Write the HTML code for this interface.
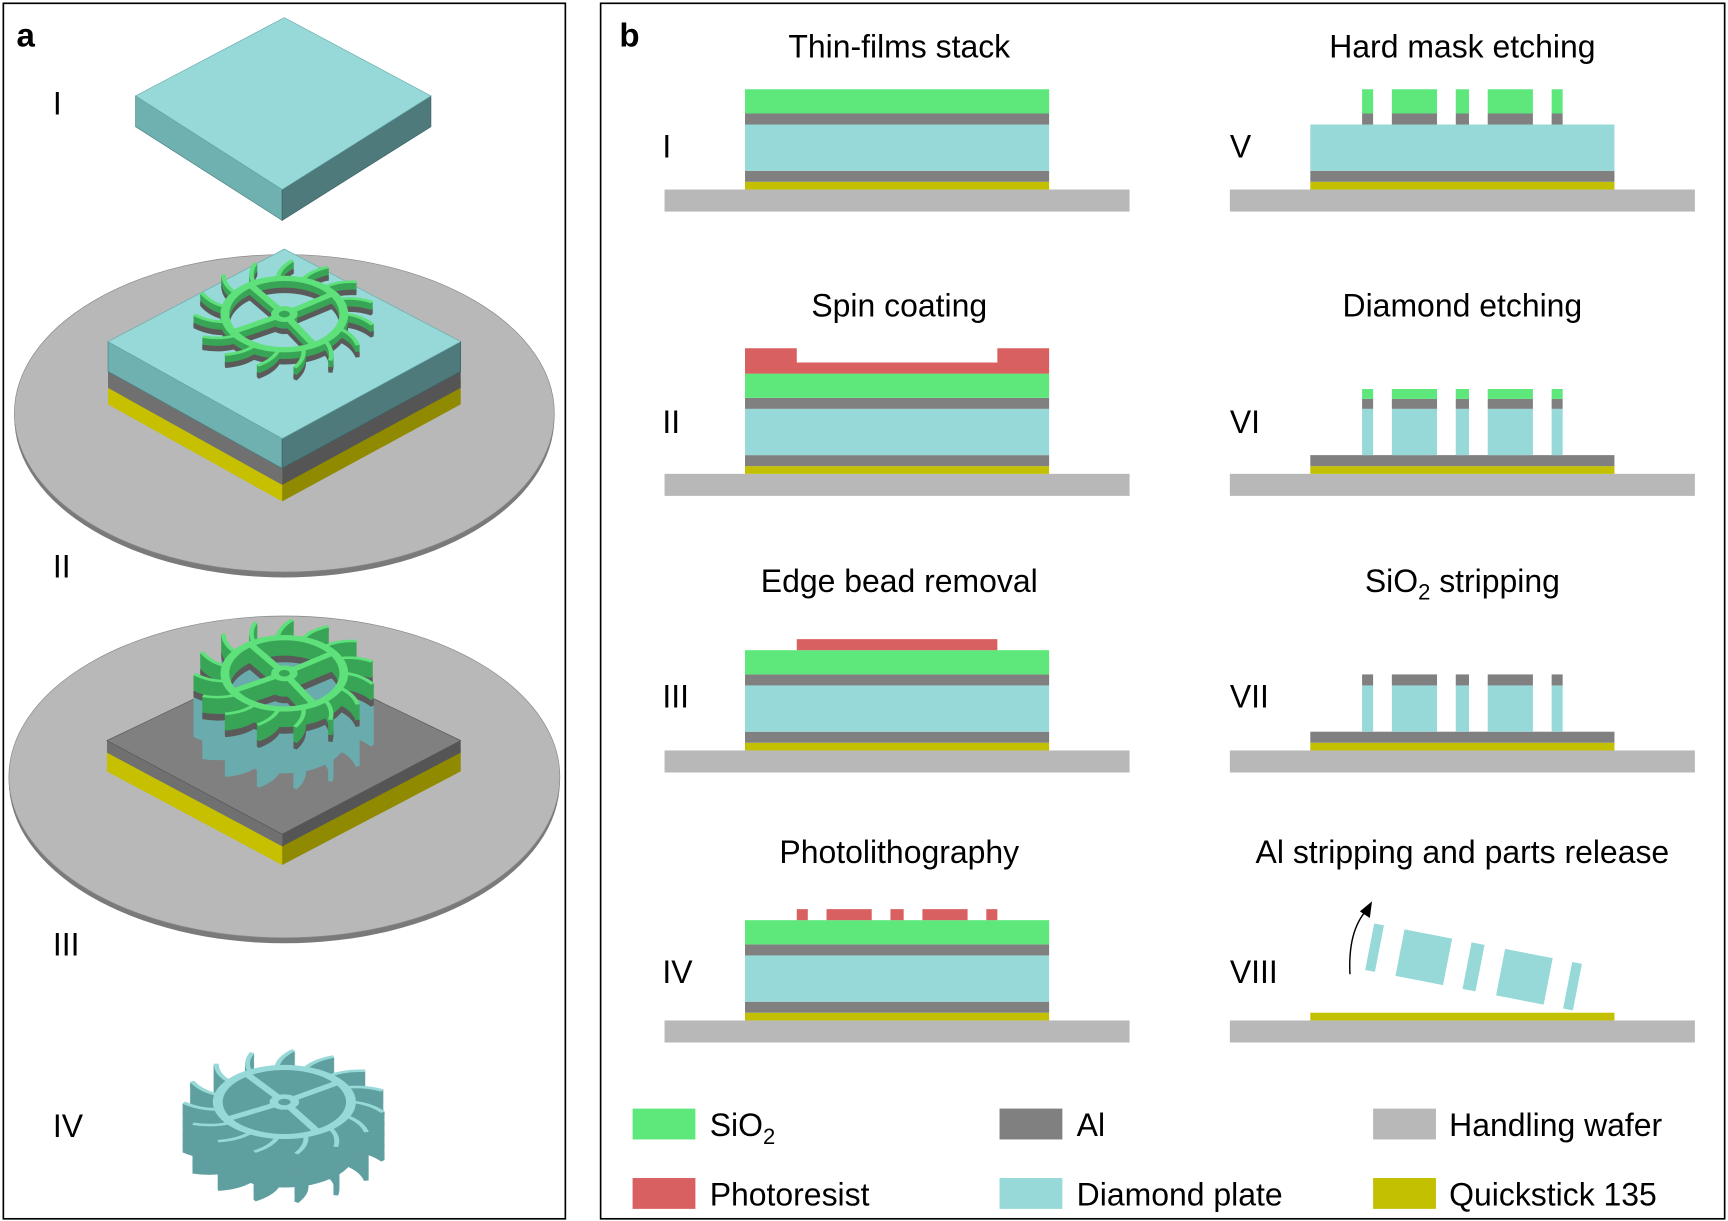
<!DOCTYPE html>
<html><head><meta charset="utf-8"><style>
html,body{margin:0;padding:0;background:#fff;}
svg{display:block;}
text{font-family:"Liberation Sans",Arial,sans-serif;fill:#000;}
</style></head><body>
<svg width="1728" height="1221" viewBox="0 0 1568 1108" xmlns="http://www.w3.org/2000/svg">
<defs>
<path id="tooth" d="M56,0 Q70,3 80,16" fill="none" stroke-width="4"/>
<g id="gear">
  <path d="M58,0 A58,58 0 1 0 -58,0 A58,58 0 1 0 58,0 Z M50,0 A50,50 0 1 1 -50,0 A50,50 0 1 1 50,0 Z" fill-rule="evenodd" stroke="none"/>
  <path d="M12,0 A12,12 0 1 0 -12,0 A12,12 0 1 0 12,0 Z M5,0 A5,5 0 1 1 -5,0 A5,5 0 1 1 5,0 Z" fill-rule="evenodd" stroke="none"/>
  <g stroke="none">
    <rect x="10" y="-3.5" width="42" height="7" transform="rotate(-35)"/>
    <rect x="10" y="-3.5" width="42" height="7" transform="rotate(60)"/>
    <rect x="10" y="-3.5" width="42" height="7" transform="rotate(150)"/>
    <rect x="10" y="-3.5" width="42" height="7" transform="rotate(235)"/>
  </g>
  <use href="#tooth" transform="rotate(0)"/><use href="#tooth" transform="rotate(24)"/>
  <use href="#tooth" transform="rotate(48)"/><use href="#tooth" transform="rotate(72)"/>
  <use href="#tooth" transform="rotate(96)"/><use href="#tooth" transform="rotate(120)"/>
  <use href="#tooth" transform="rotate(144)"/><use href="#tooth" transform="rotate(168)"/>
  <use href="#tooth" transform="rotate(192)"/><use href="#tooth" transform="rotate(216)"/>
  <use href="#tooth" transform="rotate(240)"/><use href="#tooth" transform="rotate(264)"/>
  <use href="#tooth" transform="rotate(288)"/><use href="#tooth" transform="rotate(312)"/>
  <use href="#tooth" transform="rotate(336)"/>
</g>
<g id="g2"><g transform="scale(1,0.6)"><use href="#gear"/></g></g>
<g id="g4"><g transform="scale(1.12,0.58)"><use href="#gear"/></g></g>
<g id="s2"><use href="#g2"/><use href="#g2" y="1"/><use href="#g2" y="2"/></g>
<g id="s4"><use href="#g4"/><use href="#g4" y="1"/><use href="#g4" y="2"/></g>
</defs>

<rect x="3" y="3" width="510" height="1103" fill="none" stroke="#000" stroke-width="1.5"/>
<rect x="545" y="3" width="1020" height="1103" fill="none" stroke="#000" stroke-width="1.5"/>
<text x="15" y="42" font-size="30" font-weight="bold">a</text>
<text x="562" y="42" font-size="30" font-weight="bold">b</text>

<!-- a I -->
<text x="48" y="104" font-size="29">I</text>
<polygon points="123,87 256,172 256,200 123,115" fill="#6fb0b0" stroke="#4a8080" stroke-width="0.6"/>
<polygon points="256,172 391,87 391,115 256,200" fill="#4e7a7c" stroke="#3c6062" stroke-width="0.6"/>
<polygon points="258,16 391,87 256,172 123,87" fill="#96d9d8" stroke="#6aa" stroke-width="0.6"/>

<!-- a II -->
<ellipse cx="258" cy="379" rx="245" ry="145" fill="#7a7a7a"/>
<ellipse cx="258" cy="375" rx="245" ry="144" fill="#b8b8b8" stroke="#888" stroke-width="0.6"/>
<polygon points="98,344 256,432 256,455 98,367" fill="#c6c000"/>
<polygon points="256,432 418,344 418,367 256,455" fill="#8f8a00"/>
<polygon points="98,336 256,424 256,440 98,352" fill="#707070"/>
<polygon points="256,424 418,336 418,352 256,440" fill="#555"/>
<polygon points="98,310 256,398 256,425 98,337" fill="#6fb0b0" stroke="#4a8080" stroke-width="0.6"/>
<polygon points="256,398 418,310 418,337 256,425" fill="#4e7a7c" stroke="#3c6062" stroke-width="0.6"/>
<polygon points="258,226 418,310 256,398 98,310" fill="#96d9d8" stroke="#6aa" stroke-width="0.6"/>
<g transform="translate(258,285)">
<g fill="#5a5a5a" stroke="#5a5a5a"><use href="#s2" y="9"/><use href="#s2" y="7"/></g>
<g fill="#38a556" stroke="#38a556"><use href="#s2" y="4"/><use href="#s2" y="1"/></g>
<g fill="#5ee07a" stroke="#5ee07a"><use href="#g2"/></g>
</g>
<text x="48" y="524" font-size="29">II</text>

<!-- a III -->
<ellipse cx="258" cy="709" rx="250" ry="147" fill="#7a7a7a"/>
<ellipse cx="258" cy="705" rx="250" ry="146" fill="#b8b8b8" stroke="#888" stroke-width="0.6"/>
<polygon points="97,680 256,765 256,785 97,700" fill="#c6c000"/>
<polygon points="256,765 418,680 418,700 256,785" fill="#8f8a00"/>
<polygon points="97,672 256,757 256,768 97,683" fill="#707070"/>
<polygon points="256,757 418,672 418,683 256,768" fill="#555"/>
<polygon points="258,595 418,672 256,757 97,672" fill="#808080" stroke="#555" stroke-width="0.6"/>
<g transform="translate(258,611)">
<g fill="#6aacad" stroke="#6aacad">
<use href="#s2" y="54"/><use href="#s2" y="51"/><use href="#s2" y="48"/><use href="#s2" y="45"/>
<use href="#s2" y="42"/><use href="#s2" y="39"/><use href="#s2" y="36"/><use href="#s2" y="33"/>
<use href="#s2" y="30"/><use href="#s2" y="27"/><use href="#s2" y="24"/><use href="#s2" y="21"/>
</g>
<g fill="#5a5a5a" stroke="#5a5a5a"><use href="#s2" y="18"/><use href="#s2" y="15"/></g>
<g fill="#38a556" stroke="#38a556"><use href="#s2" y="12"/><use href="#s2" y="9"/><use href="#s2" y="6"/><use href="#s2" y="3"/><use href="#s2" y="1"/></g>
<g fill="#5ee07a" stroke="#5ee07a"><use href="#g2"/></g>
</g>
<text x="48" y="867" font-size="29">III</text>

<!-- a IV -->
<g transform="translate(258,1000)">
<g fill="#5f9fa0" stroke="#5f9fa0">
<use href="#s4" y="42"/><use href="#s4" y="39"/><use href="#s4" y="36"/><use href="#s4" y="33"/>
<use href="#s4" y="30"/><use href="#s4" y="27"/><use href="#s4" y="24"/><use href="#s4" y="21"/>
<use href="#s4" y="18"/><use href="#s4" y="15"/><use href="#s4" y="12"/><use href="#s4" y="9"/>
<use href="#s4" y="6"/><use href="#s4" y="3"/><use href="#s4" y="1"/>
</g>
<g fill="#96d9d8" stroke="#96d9d8"><use href="#g4"/></g>
</g>
<text x="48" y="1032" font-size="29">IV</text>

<!-- Panel b titles -->
<g font-size="29" text-anchor="middle">
<text x="816" y="52">Thin-films stack</text>
<text x="1327" y="52">Hard mask etching</text>
<text x="816" y="287">Spin coating</text>
<text x="1327" y="287">Diamond etching</text>
<text x="816" y="537">Edge bead removal</text>
<text x="1327" y="537">SiO<tspan font-size="20" dy="7">2</tspan><tspan dy="-7"> stripping</tspan></text>
<text x="816" y="783">Photolithography</text>
<text x="1327" y="783">Al stripping and parts release</text>
</g>
<g font-size="29">
<text x="601" y="143">I</text>
<text x="601" y="393">II</text>
<text x="601" y="642">III</text>
<text x="601" y="892">IV</text>
<text x="1116" y="143">V</text>
<text x="1116" y="393">VI</text>
<text x="1116" y="642">VII</text>
<text x="1116" y="892">VIII</text>
</g>

<!-- I -->
<rect x="603" y="172" width="422" height="20" fill="#b8b8b8"/>
<rect x="676" y="165" width="276" height="7" fill="#c2c000"/>
<rect x="676" y="155" width="276" height="10" fill="#808080"/>
<rect x="676" y="113" width="276" height="42" fill="#96d9d8"/>
<rect x="676" y="103" width="276" height="10" fill="#808080"/>
<rect x="676" y="81" width="276" height="22" fill="#5ee87c"/>

<!-- II -->
<rect x="603" y="430" width="422" height="20" fill="#b8b8b8"/>
<rect x="676" y="423" width="276" height="7" fill="#c2c000"/>
<rect x="676" y="413" width="276" height="10" fill="#808080"/>
<rect x="676" y="371" width="276" height="42" fill="#96d9d8"/>
<rect x="676" y="361" width="276" height="10" fill="#808080"/>
<rect x="676" y="339" width="276" height="22" fill="#5ee87c"/>
<path d="M676,316 H723 V329 H905 V316 H952 V339 H676 Z" fill="#d96060"/>

<!-- III -->
<rect x="603" y="681" width="422" height="20" fill="#b8b8b8"/>
<rect x="676" y="674" width="276" height="7" fill="#c2c000"/>
<rect x="676" y="664" width="276" height="10" fill="#808080"/>
<rect x="676" y="622" width="276" height="42" fill="#96d9d8"/>
<rect x="676" y="612" width="276" height="10" fill="#808080"/>
<rect x="676" y="590" width="276" height="22" fill="#5ee87c"/>
<rect x="723" y="580" width="182" height="10" fill="#d96060"/>

<!-- IV -->
<rect x="603" y="926" width="422" height="20" fill="#b8b8b8"/>
<rect x="676" y="919" width="276" height="7" fill="#c2c000"/>
<rect x="676" y="909" width="276" height="10" fill="#808080"/>
<rect x="676" y="867" width="276" height="42" fill="#96d9d8"/>
<rect x="676" y="857" width="276" height="10" fill="#808080"/>
<rect x="676" y="835" width="276" height="22" fill="#5ee87c"/>
<g fill="#d96060">
<rect x="723" y="825" width="10" height="10"/><rect x="750" y="825" width="41" height="10"/>
<rect x="808" y="825" width="12" height="10"/><rect x="837" y="825" width="41" height="10"/>
<rect x="895" y="825" width="10" height="10"/>
</g>

<!-- V -->
<rect x="1116" y="172" width="422" height="20" fill="#b8b8b8"/>
<rect x="1189" y="165" width="276" height="7" fill="#c2c000"/>
<rect x="1189" y="155" width="276" height="10" fill="#808080"/>
<rect x="1189" y="113" width="276" height="42" fill="#96d9d8"/>
<g fill="#808080">
<rect x="1236" y="103" width="10" height="10"/><rect x="1263" y="103" width="41" height="10"/>
<rect x="1321" y="103" width="12" height="10"/><rect x="1350" y="103" width="41" height="10"/>
<rect x="1408" y="103" width="10" height="10"/>
</g>
<g fill="#5ee87c">
<rect x="1236" y="81" width="10" height="22"/><rect x="1263" y="81" width="41" height="22"/>
<rect x="1321" y="81" width="12" height="22"/><rect x="1350" y="81" width="41" height="22"/>
<rect x="1408" y="81" width="10" height="22"/>
</g>

<!-- VI -->
<rect x="1116" y="430" width="422" height="20" fill="#b8b8b8"/>
<rect x="1189" y="423" width="276" height="7" fill="#c2c000"/>
<rect x="1189" y="413" width="276" height="10" fill="#808080"/>
<g fill="#96d9d8">
<rect x="1236" y="371" width="10" height="42"/><rect x="1263" y="371" width="41" height="42"/>
<rect x="1321" y="371" width="12" height="42"/><rect x="1350" y="371" width="41" height="42"/>
<rect x="1408" y="371" width="10" height="42"/>
</g>
<g fill="#808080">
<rect x="1236" y="362" width="10" height="9"/><rect x="1263" y="362" width="41" height="9"/>
<rect x="1321" y="362" width="12" height="9"/><rect x="1350" y="362" width="41" height="9"/>
<rect x="1408" y="362" width="10" height="9"/>
</g>
<g fill="#5ee87c">
<rect x="1236" y="353" width="10" height="9"/><rect x="1263" y="353" width="41" height="9"/>
<rect x="1321" y="353" width="12" height="9"/><rect x="1350" y="353" width="41" height="9"/>
<rect x="1408" y="353" width="10" height="9"/>
</g>

<!-- VII -->
<rect x="1116" y="681" width="422" height="20" fill="#b8b8b8"/>
<rect x="1189" y="674" width="276" height="7" fill="#c2c000"/>
<rect x="1189" y="664" width="276" height="10" fill="#808080"/>
<g fill="#96d9d8">
<rect x="1236" y="622" width="10" height="42"/><rect x="1263" y="622" width="41" height="42"/>
<rect x="1321" y="622" width="12" height="42"/><rect x="1350" y="622" width="41" height="42"/>
<rect x="1408" y="622" width="10" height="42"/>
</g>
<g fill="#808080">
<rect x="1236" y="612" width="10" height="10"/><rect x="1263" y="612" width="41" height="10"/>
<rect x="1321" y="612" width="12" height="10"/><rect x="1350" y="612" width="41" height="10"/>
<rect x="1408" y="612" width="10" height="10"/>
</g>

<!-- VIII -->
<rect x="1116" y="926" width="422" height="20" fill="#b8b8b8"/>
<rect x="1189" y="919" width="276" height="7" fill="#c2c000"/>
<g transform="translate(1247,838) rotate(11)" fill="#96d9d8">
<rect x="0" y="0" width="9" height="43"/><rect x="28" y="0" width="44" height="43"/>
<rect x="90" y="0" width="12" height="43"/><rect x="121" y="0" width="44" height="43"/>
<rect x="183" y="0" width="9" height="43"/>
</g>
<path d="M1225,884 Q1223,845 1240,826" fill="none" stroke="#000" stroke-width="1.3"/>
<polygon points="1245,818 1243,833 1234,827" fill="#000"/>

<!-- Legend -->
<rect x="574" y="1006" width="57" height="28" fill="#5ee87c"/>
<text x="644" y="1031" font-size="29">SiO<tspan font-size="20" dy="7">2</tspan></text>
<rect x="907" y="1006" width="57" height="28" fill="#808080"/>
<text x="977" y="1031" font-size="29">Al</text>
<rect x="1246" y="1006" width="57" height="28" fill="#b8b8b8"/>
<text x="1315" y="1031" font-size="29">Handling wafer</text>
<rect x="574" y="1069" width="57" height="28" fill="#d96060"/>
<text x="644" y="1094" font-size="29">Photoresist</text>
<rect x="907" y="1069" width="57" height="28" fill="#96d9d8"/>
<text x="977" y="1094" font-size="29">Diamond plate</text>
<rect x="1246" y="1069" width="57" height="28" fill="#c2c000"/>
<text x="1315" y="1094" font-size="29">Quickstick 135</text>
</svg>
</body></html>
